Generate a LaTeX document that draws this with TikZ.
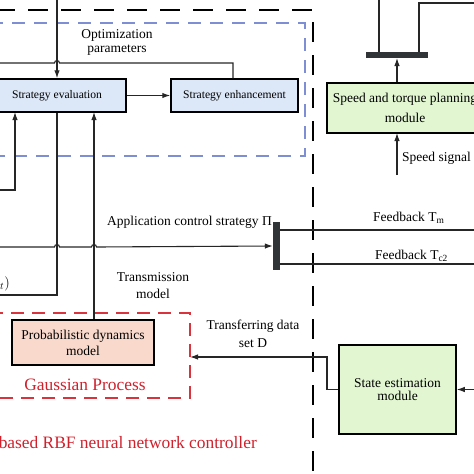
\documentclass[tikz,border=0pt]{standalone}
\usepackage{fontspec}
\setmainfont{Liberation Serif}
\usetikzlibrary{arrows.meta}
\definecolor{evalblue}{HTML}{DCE7F7}
\definecolor{boxgreen}{HTML}{E2F6D2}
\definecolor{boxsalmon}{HTML}{F8D9CC}
\definecolor{dashblue}{HTML}{7E8ED2}
\definecolor{dashred}{HTML}{D8343E}
\definecolor{txtred}{HTML}{D0202C}
\definecolor{bargray}{HTML}{303436}
\tikzset{
  blk/.style={draw=black, line width=1.5pt, inner sep=0pt},
  conn/.style={line width=1.1pt, draw=black!85},
  arr/.style={conn, -{Latex[length=8pt,width=5.5pt]}},
  bar/.style={fill=bargray, draw=none, inner sep=0pt},
  lbl/.style={font=\fontsize{13.5}{16}\selectfont, align=center, inner sep=0pt},
  sml/.style={font=\fontsize{11.6}{14}\selectfont, align=center, inner sep=0pt},
  redlbl/.style={font=\fontsize{17.4}{20}\selectfont, text=txtred, inner sep=0pt},
}
\begin{document}
\begin{tikzpicture}[x=1pt,y=-1pt]
\useasboundingbox (0,0) rectangle (474,474);
% outer dashed controller frame
\draw[line width=1.8pt, dash pattern=on 20pt off 13pt] (-5,10) -- (313,10) -- (313,480);
% blue dashed region
\draw[dashblue, line width=1.1pt, dash pattern=on 13pt off 9pt] (-10,23) -- (305,23) -- (305,156) -- (-10,156);
% red dashed region
\draw[dashred, line width=1.3pt, dash pattern=on 13pt off 8pt] (-10,313) -- (190,313) -- (190,398) -- (-10,398);
\coordinate (gpE) at (190,357);

% boxes
\node[blk, fill=evalblue, minimum width=138pt, minimum height=33pt, sml] (eval) at (57,95.5) {Strategy evaluation};
\node[blk, fill=evalblue, minimum width=127pt, minimum height=33pt, sml] (enh) at (234.5,95.5) {Strategy enhancement};
\node[blk, fill=boxsalmon, minimum width=142pt, minimum height=45pt, lbl] (prob) at (83,342.5) {Probabilistic dynamics\\model};
\node[blk, fill=boxgreen, minimum width=117pt, minimum height=89pt, font=\fontsize{13.5}{13}\selectfont, align=center] (state) at (397.5,389.5) {State estimation\\module};
\node[blk, fill=boxgreen, minimum width=156pt, minimum height=50pt, font=\fontsize{13.5}{20}\selectfont, align=center] (speed) at (405,108) {Speed and torque planning\\module};

% bars
\node[bar, minimum width=62pt, minimum height=6pt] (bar1) at (397,55) {};
\node[bar, minimum width=7pt, minimum height=48pt] (bar2) at (276.5,246) {};

% free ends
\coordinate (topin) at (57,0);
\coordinate (leftA) at (-5,63);
\coordinate (leftB) at (-5,190);
\coordinate (leftC) at (-5,295);
\coordinate (leftD) at (-5,247);
\coordinate (rTm) at (480,230);
\coordinate (rTc) at (480,264);
\coordinate (topL) at (379,-5);
\coordinate (topR) at (480,3);
\coordinate (spdin) at (397,175);
\coordinate (stin) at (480,389.5);

% connectors
\draw[arr] (topin) -- (eval.north);
\draw[conn] (enh.north -| 233,0) -- (233,63) -- (59.5,63) arc[start angle=0,end angle=180,radius=2.5pt] -- (leftA);
\draw[arr] (eval.east) -- (enh.west);
\draw[arr] (leftB) -- (15,190) -- (15,112);
\draw[conn] (eval.south) -- (57,295) -- (leftC);
\draw[arr] (prob.north -| 94,0) -- (94,112);
\draw[arr] (leftD) -- (54.5,247) arc[start angle=180,end angle=0,radius=2.5pt] -- (91.5,247) arc[start angle=180,end angle=0,radius=2.5pt] -- (bar2.west);
\draw[conn] (280,230) -- (rTm);
\draw[conn] (280,264) -- (rTc);
\draw[conn] (379,52) -- (topL);
\draw[conn] (419,52) -- (419,3) -- (topR);
\draw[arr] (speed.north -| 397,0) -- (397,58);
\draw[arr] (spdin) -- (397,133);
\draw[arr] (stin) -- (state.east);
\draw[arr] (state.west) -- (327,389.5) -- (327,357) -- (gpE);

% labels
\node[lbl, font=\fontsize{13.5}{14}\selectfont] (optlbl) at (117,42) {Optimization\\parameters};
\node[lbl, anchor=west] (applbl) at (107,222) {Application control strategy Π};
\node[lbl, font=\fontsize{13.5}{17}\selectfont] (trlbl) at (153,286) {Transmission\\model};
\node[lbl, anchor=west] (fbm) at (373,218) {Feedback T\textsubscript{m}};
\node[lbl, anchor=west] (fbc) at (375,256) {Feedback T\textsubscript{c2}};
\node[lbl, font=\fontsize{13.5}{17.5}\selectfont] (tdlbl) at (253,334) {Transferring data\\set D};
\node[lbl, anchor=west] (sslbl) at (402,158) {Speed signal};
\node[redlbl] (gplbl) at (85,385) {Gaussian Process};
\node[redlbl, anchor=east] (ctl) at (257,443) {based RBF neural network controller};
\node[lbl, anchor=east, font=\fontsize{14}{16}\selectfont] (part) at (10,284) {$a_t)$};
\end{tikzpicture}
\end{document}
